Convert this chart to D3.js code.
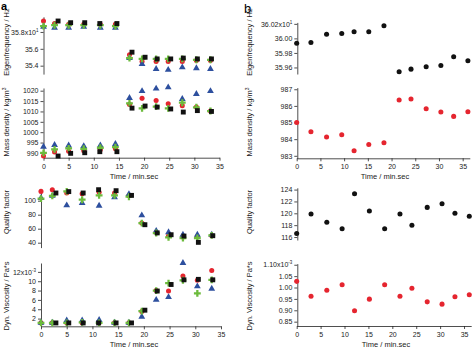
<!DOCTYPE html>
<html>
<head>
<meta charset="utf-8">
<script src="https://cdn.jsdelivr.net/npm/d3@7"></script>
<style>
  body { margin: 0; background: #fff; }
  svg { display: block; font-family: "Liberation Sans", Arial, sans-serif; }
  .tick text { font-size: 7px; fill: #222; }
  .domain, .tick line { stroke: #222; stroke-width: 0.8; }
  .title { font-size: 7.5px; fill: #222; }
</style>
</head>
<body>
<div id="chart"></div>
<script>
// ---- panel a : four samples measured over time ----
const timesA = [0, 2.2, 5, 8, 11.3, 14.3, 17.1, 19.6, 22.4, 24.8, 27.6, 30.4, 33.2]
const timesABlack = [2.9, 5.4, 8.2, 11.2, 14.6, 17.6, 20.2, 22.6, 25.3, 27.8, 30.6, 33.4]

const freqARed   = [35.93, 35.90, 35.89, 35.89, 35.89, 35.89, 35.53, 35.45, 35.45, 35.45, 35.45, 35.46, 35.46]
const freqABlue  = [35.86, 35.85, 35.85, 35.86, 35.85, 35.85, 35.49, 35.42, 35.36, 35.35, 35.38, 35.37, 35.36]
const freqAGreen = [35.87, 35.88, 35.88, 35.88, 35.88, 35.87, 35.49, 35.48, 35.48, 35.48, 35.48, 35.47, 35.47]
const freqABlack = [35.93, 35.91, 35.91, 35.90, 35.90, 35.56, 35.50, 35.48, 35.48, 35.49, 35.48, 35.48]

const densARed   = [988.5, 990.5, 990.8, 991, 991.5, 992, 1013.4, 1016.3, 1015.3, 1013.7, 1012.8, 1012.1, 1010.2]
const densABlue  = [993.0, 993.8, 993.6, 993.3, 993.6, 994.3, 1016.5, 1019.8, 1021, 1021.6, 1016, 1018.4, 1019.8]
const densAGreen = [990, 991.7, 992.2, 992, 992.5, 992.8, 1013.9, 1011.5, 1012.3, 1011.5, 1014.2, 1012, 1010.2]
const densABlack = [988.5, 989.8, 990.1, 990.6, 990.6, 1011.6, 1012.6, 1012.1, 1011.2, 1009.7, 1010.4, 1010.0]

const qualARed   = [113.3, 115.7, 111, 110, 112, 111, 107, 68, 55, 50, 48, 49, 50]
const qualABlue  = [103.8, 107, 93.3, 96.7, 92.9, 104.8, 109.5, 79, 57, 55, 51.4, 51.4, 51.4]
const qualAGreen = [102.9, 107, 113.3, 101.4, 107.6, 107.6, 105.7, 68, 53.8, 47.6, 46.7, 46.7, 50.5]
const qualABlack = [111, 113, 111, 115.7, 114.3, 107.6, 65.7, 54, 51.4, 49.5, 40.5, 50]

const viscARed   = [1.1, 1.1, 1.1, 1.1, 1.1, 1.1, 1.1, 3.5, 8.0, 7.9, 11.1, 10.2, 12.3]
const viscABlue  = [1.1, 1.1, 1.6, 1.6, 1.7, 1.1, 1.1, 2.4, 6.0, 6.6, 13.9, 8.9, 8.4]
const viscAGreen = [1.07, 1.07, 1.07, 1.2, 1.07, 1.07, 1.07, 3.6, 8.0, 9.6, 10.2, 7.4, 10.3]
const viscABlack = [1.07, 1.07, 1.07, 1.07, 1.07, 1.07, 3.8, 7.9, 9.3, 10.3, 10.4, 10.3]

// ---- panel b : single sample ----
const timesB   = [0, 3.0, 6.3, 9.5, 12.1, 15.2, 18.4, 21.6, 24.1, 27.3, 30.4, 33.1, 36.1]
const freqB    = [35.9934, 35.9943, 36.0058, 36.0067, 36.009, 36.009, 36.0173, 35.954, 35.9577, 35.9609, 35.9627, 35.9747, 35.9692]
const densB    = [985.0, 984.45, 984.13, 984.27, 983.3, 983.68, 983.78, 986.36, 986.42, 985.83, 985.63, 985.37, 985.65]
const qualB    = [116.6, 119.9, 118.5, 117.4, 123.3, 120.4, 117.4, 119.9, 118.0, 121.0, 121.6, 120.0, 119.5]
const viscB    = [1.027, 0.962, 0.988, 1.012, 0.898, 0.949, 1.012, 0.962, 0.997, 0.937, 0.927, 0.959, 0.968]

// tick labels
const timeTicks = [0, 5, 10, 15, 20, 25, 30, 35]
const freqATicks = [35.4, 35.6, 35.8]
const densATicks = [990, 995, 1000, 1005, 1010, 1015, 1020]
const qualATicks = [40, 60, 80, 100]
const viscATicks = [2, 4, 6, 8, 10, 12]
const freqBTicks = [35.96, 35.98, 36.00, 36.02]
const densBTicks = [983, 984, 985, 986, 987]
const qualBTicks = [116, 118, 120, 122, 124]
const viscBTicks = [0.85, 0.90, 0.95, 1.00, 1.05, 1.10]

const colors = { red: "#e5252f", blue: "#2d4f9e", green: "#6cbb3c", black: "#111" }

var svg = d3.select('#chart').append('svg')
            .attr('width', 474).attr('height', 349)

// draw a y axis; top tick gets the "x10^n" suffix
function drawY (scale, ticks, fmt, x, sup) {
    var g = svg.append('g')
               .attr('transform', 'translate(' + x + ',0)')
               .call(d3.axisLeft(scale).tickValues(ticks).tickFormat(fmt).tickSize(3).tickSizeOuter(0).tickPadding(2))
    if (sup) {
        var top = d3.max(ticks)
        g.selectAll('.tick').filter(d => d === top).select('text')
            .text(fmt(top) + 'x10')
            .append('tspan').attr('dy', -3).attr('font-size', '4.5px').text(sup)
    }
    return g
}

function drawX (scale, y) {
    svg.append('g')
       .attr('transform', 'translate(0,' + y + ')')
       .call(d3.axisBottom(scale).tickValues(timeTicks).tickSize(3).tickSizeOuter(0).tickPadding(3))
}

function yTitle (text, x, y, sup) {
    var t = svg.append('text').attr('class', 'title')
               .attr('text-anchor', 'middle')
               .attr('transform', 'translate(' + x + ',' + y + ')rotate(-90)')
               .text(text)
    if (sup) t.append('tspan').attr('dy', -3).attr('font-size', '5px').text(sup)
}

function xTitle (x, y) {
    svg.append('text').attr('class', 'title').attr('text-anchor', 'middle')
       .attr('x', x).attr('y', y).text('Time / min.sec')
}

const symbols = {
    red: d3.symbol().type(d3.symbolCircle).size(20),
    blue: d3.symbol().type(d3.symbolTriangle).size(20),
    green: d3.symbol().type(d3.symbolCross).size(26),
    black: d3.symbol().type(d3.symbolSquare).size(24)
}

function plot (xs, ys, times, values, key, sym) {
    svg.append('g').selectAll('path')
       .data(values.map((v, i) => [times[i], v]))
       .enter().append('path')
       .attr('transform', d => 'translate(' + xs(d[0]) + ',' + ys(d[1]) + ')')
       .attr('d', (sym || symbols[key])())
       .attr('fill', colors[key])
}

function plotA (xs, ys, red, blue, green, black) {
    plot(xs, ys, timesA, red, 'red')
    plot(xs, ys, timesA, blue, 'blue')
    plot(xs, ys, timesA, green, 'green')
    plot(xs, ys, timesABlack, black, 'black')
}

// ---------- panel a ----------
var xA1 = d3.scaleLinear().domain([0, 35]).range([43.5, 219.5])
var xA2 = d3.scaleLinear().domain([0, 35]).range([41, 221])

var yFreqA = d3.scaleLinear().domain([35.30, 35.98]).range([74.1, 16.8])
drawY(yFreqA, freqATicks, d3.format('.1f'), 43.5, '1')
plotA(xA1, yFreqA, freqARed, freqABlue, freqAGreen, freqABlack)
yTitle('Eigenfrequency / Hz', 9, 42)

var yDensA = d3.scaleLinear().domain([987.7, 1021.3]).range([157.7, 88])
drawY(yDensA, densATicks, d3.format('d'), 43.5)
drawX(xA1, 157.7)
plotA(xA1, yDensA, densARed, densABlue, densAGreen, densABlack)
yTitle('Mass density / kg/m', 9, 122, '3')
xTitle(134, 179)

var yQualA = d3.scaleLinear().domain([33, 117]).range([247.6, 188.8])
drawY(yQualA, qualATicks, d3.format('d'), 41)
plotA(xA2, yQualA, qualARed, qualABlue, qualAGreen, qualABlack)
yTitle('Quality factor', 9, 212)

var yViscA = d3.scaleLinear().domain([0.35, 13.9]).range([326.3, 263])
drawY(yViscA, viscATicks, d3.format('d'), 41, '-3')
drawX(xA2, 326.3)
plotA(xA2, yViscA, viscARed, viscABlue, viscAGreen, viscABlack)
yTitle('Dyn. Viscosity / Pa*s', 9, 296)
xTitle(134, 347)

// ---------- panel b ----------
var xB1 = d3.scaleLinear().domain([0, 36.5]).range([296.7, 469.8])
var xB2 = d3.scaleLinear().domain([0, 36.5]).range([296.7, 471.2])
var dot = d3.symbol().type(d3.symbolCircle).size(20)

var yFreqB = d3.scaleLinear().domain([35.951, 36.022]).range([74, 22.4])
drawY(yFreqB, freqBTicks, d3.format('.2f'), 297.3, '1')
plot(xB1, yFreqB, timesB, freqB, 'black', dot)
yTitle('Eigenfrequency / Hz', 252, 42)

var yDensB = d3.scaleLinear().domain([982.85, 987.1]).range([158.3, 87.6])
drawY(yDensB, densBTicks, d3.format('d'), 297.3)
drawX(xB1, 158.3)
plot(xB1, yDensB, timesB, densB, 'red', dot)
yTitle('Mass density / kg/m', 252, 122, '3')
xTitle(385, 179)

var yQualB = d3.scaleLinear().domain([115.5, 124.3]).range([240, 187.8])
drawY(yQualB, qualBTicks, d3.format('d'), 297.3)
plot(xB2, yQualB, timesB, qualB, 'black', dot)
yTitle('Quality factor', 252, 212)

var yViscB = d3.scaleLinear().domain([0.831, 1.105]).range([326, 263.6])
drawY(yViscB, viscBTicks, d3.format('.2f'), 297.3, '-3')
drawX(xB2, 326)
plot(xB2, yViscB, timesB, viscB, 'red', dot)
yTitle('Dyn. Viscosity / Pa*s', 252, 296)
xTitle(386, 347)

// panel letters
svg.append('text').attr('x', 1).attr('y', 10).attr('font-size', '11px').attr('font-weight', 'bold').text('a')
svg.append('text').attr('x', 244).attr('y', 13).attr('font-size', '13px').text('b')
</script>
</body>
</html>
